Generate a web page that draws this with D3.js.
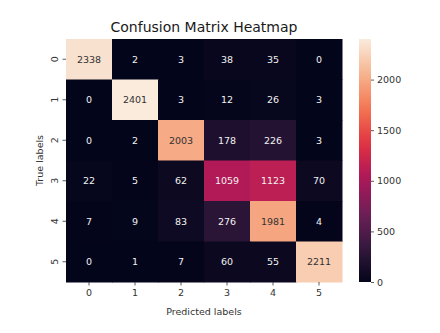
<!DOCTYPE html>
<html><head><meta charset="utf-8">
<script src="https://cdn.jsdelivr.net/npm/d3@7"></script>
<style>body{margin:0;background:#fff}svg{display:block}text{font-family:"DejaVu Sans",sans-serif}</style>
</head><body><svg id="c" width="440" height="333"></svg>
<script>
const predictedLabels = ["0","1","2","3","4","5"];
const trueLabels = ["0","1","2","3","4","5"];
const matrix = [
  [2338, 2, 3, 38, 35, 0],
  [0, 2401, 3, 12, 26, 3],
  [0, 2, 2003, 178, 226, 3],
  [22, 5, 62, 1059, 1123, 70],
  [7, 9, 83, 276, 1981, 4],
  [0, 1, 7, 60, 55, 2211]
];
const colorbarTicks = [0, 500, 1000, 1500, 2000];
const rocketStops = ["#03051a","#35193e","#701f57","#ad1759","#e13342","#f37651","#f6b48f","#faebdd"];

const svg = d3.select("#c");
const L = 66, R = 342, T = 39, B = 282;
const x = d3.scaleBand().domain(predictedLabels).range([L, R]);
const y = d3.scaleBand().domain(trueLabels).range([T, B]);
const vmax = d3.max(matrix.flat()), vmin = d3.min(matrix.flat());
const interp = d3.piecewise(d3.interpolateRgb, rocketStops);
const color = v => interp((v - vmin) / (vmax - vmin));

const cells = [];
matrix.forEach((row, i) => row.forEach((v, j) => cells.push({r: trueLabels[i], c: predictedLabels[j], v})));

svg.append("g").selectAll("rect").data(cells).join("rect")
  .attr("x", d => x(d.c)).attr("y", d => y(d.r))
  .attr("width", x.bandwidth() + 0.5).attr("height", y.bandwidth() + 0.5)
  .attr("fill", d => color(d.v));

function lum(c) {
  const rgb = d3.rgb(c);
  const f = u => { u /= 255; return u <= 0.03928 ? u / 12.92 : Math.pow((u + 0.055) / 1.055, 2.4); };
  return 0.2126 * f(rgb.r) + 0.7152 * f(rgb.g) + 0.0722 * f(rgb.b);
}

svg.append("g").selectAll("text").data(cells).join("text")
  .attr("x", d => x(d.c) + x.bandwidth() / 2)
  .attr("y", d => y(d.r) + y.bandwidth() / 2)
  .attr("text-anchor", "middle").attr("dominant-baseline", "central")
  .attr("font-size", 9.5)
  .attr("fill", d => lum(color(d.v)) > 0.408 ? "#333333" : "#f2f2f2")
  .text(d => d.v);

const xAxis = svg.append("g").attr("transform", `translate(0,${B})`)
  .call(d3.axisBottom(x).tickSize(3.5).tickPadding(4));
const yAxis = svg.append("g").attr("transform", `translate(${L},0)`)
  .call(d3.axisLeft(y).tickSize(3.5).tickPadding(4));
[xAxis, yAxis].forEach(a => {
  a.select(".domain").remove();
  a.selectAll("line").attr("stroke", "#333").attr("stroke-width", 0.8);
  a.selectAll("text").attr("font-size", 9.5).attr("fill", "#333").style("font-family", "DejaVu Sans");
});
yAxis.selectAll(".tick text").attr("text-anchor", "middle").attr("dy", null)
  .attr("dominant-baseline", "central")
  .attr("transform", "translate(-12,0) rotate(-90)").attr("x", 0);

svg.append("text").attr("x", (L + R) / 2).attr("y", 311).attr("text-anchor", "middle")
  .attr("dominant-baseline", "central").attr("font-size", 9.5).attr("fill", "#333").text("Predicted labels");
svg.append("text").attr("transform", `translate(39,${(T + B) / 2}) rotate(-90)`).attr("text-anchor", "middle")
  .attr("dominant-baseline", "central").attr("font-size", 9.5).attr("fill", "#333").text("True labels");
svg.append("text").attr("x", (L + R) / 2 + 0).attr("y", 32).attr("text-anchor", "middle")
  .attr("font-size", 14).attr("fill", "#1a1a1a").text("Confusion Matrix Heatmap");

// colorbar
const cbX = 359, cbW = 12;
const cy = d3.scaleLinear().domain([vmin, vmax]).range([B, T]);
const defs = svg.append("defs");
const grad = defs.append("linearGradient").attr("id", "cb").attr("x1", 0).attr("y1", 1).attr("x2", 0).attr("y2", 0);
d3.range(0, 1.0001, 0.05).forEach(t => grad.append("stop").attr("offset", t).attr("stop-color", interp(t)));
svg.append("rect").attr("x", cbX).attr("y", T).attr("width", cbW).attr("height", B - T).attr("fill", "url(#cb)");
const cbAxis = svg.append("g").attr("transform", `translate(${cbX + cbW},0)`)
  .call(d3.axisRight(cy).tickValues(colorbarTicks).tickFormat(d3.format("d")).tickSize(3).tickPadding(3));
cbAxis.select(".domain").remove();
cbAxis.selectAll("line").attr("stroke", "#333").attr("stroke-width", 0.8);
cbAxis.selectAll("text").attr("font-size", 9.5).attr("fill", "#333").style("font-family", "DejaVu Sans");
</script></body></html>
